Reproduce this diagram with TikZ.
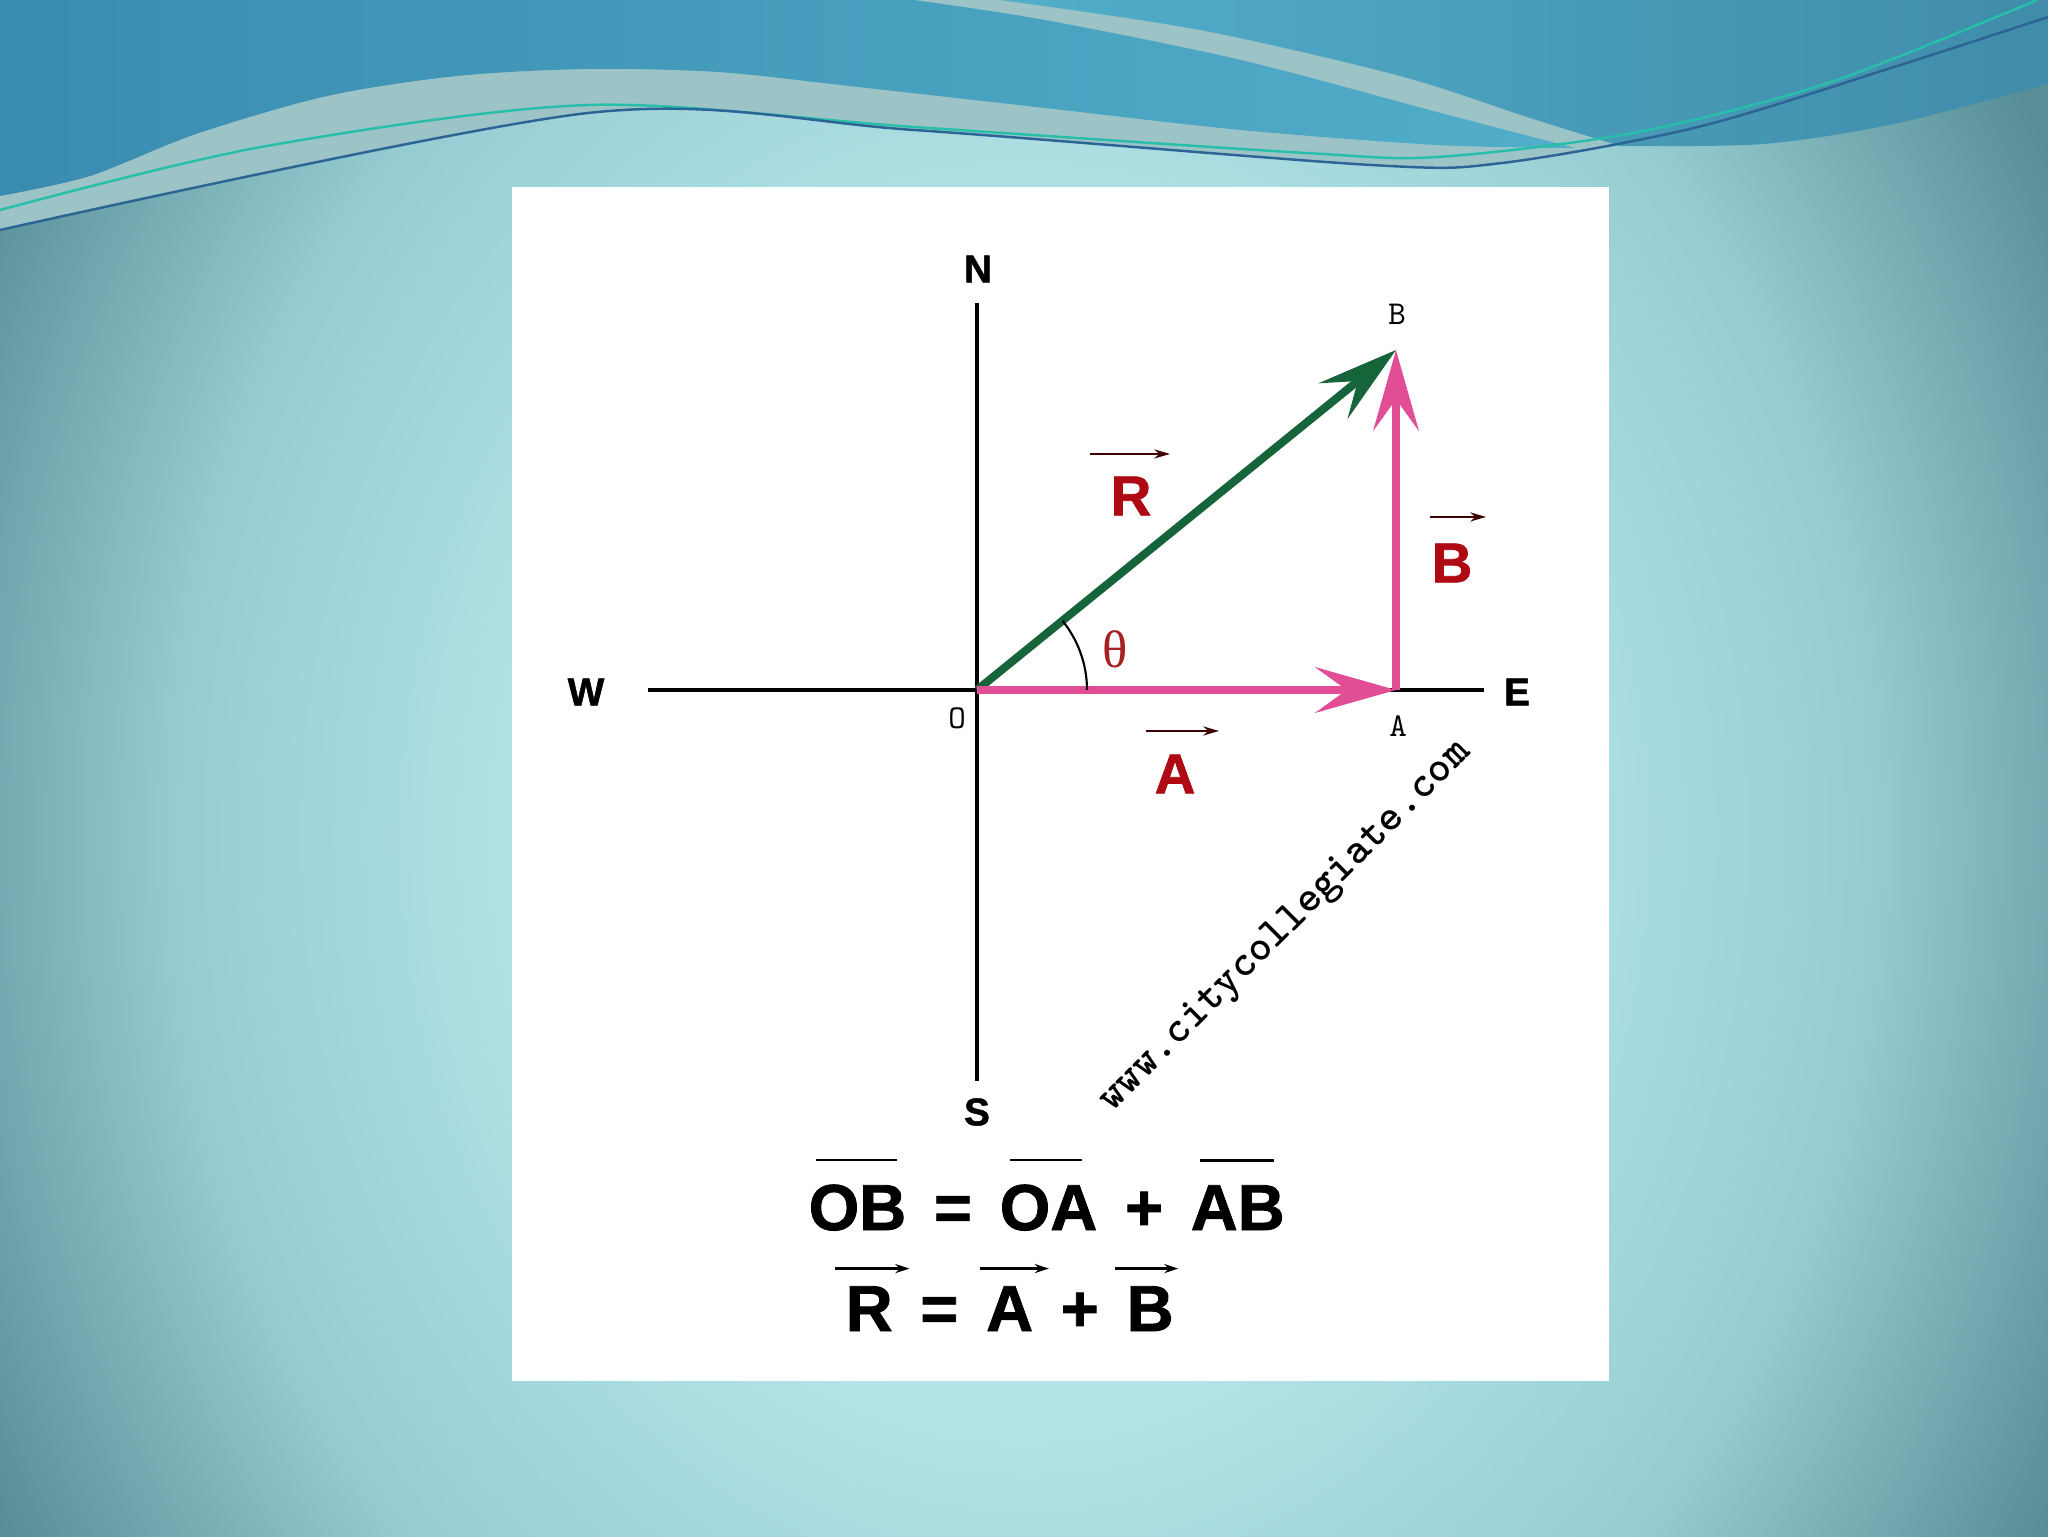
\documentclass[tikz,border=0pt]{standalone}
\usepackage{fontspec}
\usetikzlibrary{positioning,arrows.meta}
\newfontfamily\arialfont{Liberation Sans}[BoldFeatures={FakeBold=1.3}]
\newfontfamily\timesfont{Liberation Serif}
\definecolor{vecpink}{RGB}{226,78,150}
\definecolor{vecgreen}{RGB}{22,100,58}
\definecolor{vecred}{RGB}{175,10,20}
\definecolor{thetared}{RGB}{168,32,32}
\definecolor{glowin}{RGB}{180,228,231}
\definecolor{glowmid}{RGB}{150,205,210}
\definecolor{glowout}{RGB}{88,142,150}
\definecolor{waveblue}{RGB}{58,140,175}
\definecolor{waveblueR}{RGB}{82,174,202}
\definecolor{wavegrey}{RGB}{156,196,199}
\definecolor{lineteal}{RGB}{40,190,170}
\definecolor{lineblue}{RGB}{45,100,150}
\pgfdeclareradialshading{slideglow}{\pgfpoint{0bp}{0bp}}{color(0bp)=(glowin); color(10bp)=(glowin); color(18bp)=(glowmid); color(25bp)=(glowout); color(50bp)=(glowout)}

\begin{document}
\begin{tikzpicture}[x=0.1mm, y=0.1mm,
    axis/.style={line width=0.9pt, black},
    compass/.style={font=\arialfont\bfseries\fontsize{11}{13}\selectfont, inner sep=0pt},
    pointlbl/.style={font=\ttfamily\fontsize{9.5}{11}\selectfont, inner sep=0pt},
    veclbl/.style={font=\arialfont\bfseries\fontsize{16}{18}\selectfont, text=vecred, inner sep=0pt},
    vecbar/.style={line width=0.6pt, black!75!red, -{Stealth[length=4.5pt, width=2.6pt]}},
    pinkvec/.style={line width=2.2pt, vecpink, -{Stealth[length=23pt, width=13pt, inset=9pt]}},
    greenvec/.style={line width=2.3pt, vecgreen, -{Stealth[length=23pt, width=13pt, inset=9pt]}},
    eqtext/.style={font=\arialfont\bfseries\fontsize{18.5}{20}\selectfont, inner sep=0pt},
    eqbar/.style={line width=0.8pt, black},
    eqarrow/.style={line width=0.7pt, black, -{Stealth[length=4pt, width=2.6pt]}},
    node distance=7.5pt]
  \useasboundingbox (0,0) rectangle (2048,1536);

  % Slide background
  \begin{scope}
    \clip (0,0) rectangle (2048,1536);
    \shade[shading=slideglow] (-150,-700) rectangle (2198,2100);
    \fill[wavegrey] (0,1536) -- (0,1306)
      -- plot[smooth] coordinates {(0,1306) (588,1423) (914,1406) (1371,1371) (1502,1373) (1698,1409) (1894,1469) (2048,1519)}
      -- (2048,1536) -- cycle;
    \shade[left color=waveblue, right color=waveblueR] (0,1536) -- (0,1340)
      -- plot[smooth] coordinates {(0,1340) (90,1360) (196,1402) (327,1440) (457,1460) (588,1467) (718,1464) (849,1450) (1045,1428) (1241,1406) (1437,1391) (1575,1388)}
      -- plot[smooth] coordinates {(1575,1388) (1437,1424) (1241,1476) (1045,1516) (914,1536)}
      -- cycle;
    \shade[left color=waveblueR, right color=waveblue!80!glowout] (1000,1536)
      -- plot[smooth] coordinates {(1000,1536) (1200,1506) (1400,1460) (1530,1418) (1620,1390)}
      -- plot[smooth] coordinates {(1620,1390) (1763,1392) (1894,1412) (2048,1452)}
      -- (2048,1536) -- cycle;
    \draw[lineteal, line width=0.7pt] plot[smooth] coordinates {(0,1326) (261,1389) (588,1431) (914,1409) (1306,1383) (1437,1379) (1633,1403) (1828,1453) (2037,1536)};
    \draw[lineblue, line width=0.7pt] plot[smooth] coordinates {(0,1306) (588,1423) (914,1406) (1371,1371) (1502,1373) (1698,1409) (1894,1469) (2048,1519)};
  \end{scope}

  % White panel
  \fill[white] (512,155) rectangle (1609,1349);

  % Axes
  \coordinate (O) at (977,846);
  \coordinate (Ntop) at (977,1233);
  \coordinate (Sbot) at (977,455);
  \coordinate (Wend) at (648,846);
  \coordinate (Eend) at (1484,846);
  \coordinate (A) at (1396,846);
  \coordinate (B) at (1396,1186);
  \draw[axis] (Wend) -- (Eend);
  \draw[axis] (Sbot) -- (Ntop);
  \node[compass] (lN) at (978,1267) {N};
  \node[compass] (lS) at (977,424) {S};
  \node[compass] (lW) at (586,844) {W};
  \node[compass] (lE) at (1517,844) {E};

  % Vectors
  \draw[greenvec] (O) -- (B);
  \draw[pinkvec] (O) -- (A);
  \draw[pinkvec] (A) -- (B);
  \draw[line width=0.6pt] ([shift={(0:11mm)}]O) arc[start angle=0, end angle=39, radius=11mm];

  % Labels
  \node[pointlbl] (lO) at (957,818) {O};
  \node[pointlbl] (lA) at (1398,810) {A};
  \node[pointlbl] (lB) at (1397,1222) {B};
  \node[font=\timesfont\fontsize{15}{17}\selectfont, text=thetared, inner sep=0pt] (lTheta) at (1115,887) {θ};
  \node[veclbl] (vR) at (1131,1040) {R};
  \draw[vecbar] ([shift={(-41,22)}]vR.north) -- ([shift={(39,22)}]vR.north);
  \node[veclbl] (vB) at (1452,973) {B};
  \draw[vecbar] ([shift={(-22,26)}]vB.north) -- ([shift={(34,26)}]vB.north);
  \node[veclbl] (vA) at (1175,762) {A};
  \draw[vecbar] ([shift={(-29,23)}]vA.north) -- ([shift={(44,23)}]vA.north);
  \node[font=\ttfamily\bfseries\fontsize{12.5}{14}\selectfont, rotate=45] (wm) at (1286,609) {www.citycollegiate.com};

  % Equations
  \node[eqtext, anchor=base west] (eqOB) at (808,306) {OB};
  \node[eqtext, base right=of eqOB] (eqIs) {=};
  \node[eqtext, base right=of eqIs] (eqOA) {OA};
  \node[eqtext, base right=of eqOA] (eqPlus) {+};
  \node[eqtext, base right=of eqPlus] (eqAB) {AB};
  \draw[eqbar] ([shift={(8,24)}]eqOB.north west) -- ([shift={(-10,24)}]eqOB.north east);
  \draw[eqbar] ([shift={(11,24)}]eqOA.north west) -- ([shift={(-16,24)}]eqOA.north east);
  \draw[eqbar] ([shift={(10,24)}]eqAB.north west) -- ([shift={(-11,24)}]eqAB.north east);

  \node[eqtext, anchor=base west] (eqR) at (845,205) {R};
  \node[eqtext, base right=of eqR] (eqIs2) {=};
  \node[eqtext, base right=of eqIs2] (eqA) {A};
  \node[eqtext, base right=of eqA] (eqPlus2) {+};
  \node[eqtext, base right=of eqPlus2] (eqB) {B};
  \draw[eqarrow] ([shift={(-10,17)}]eqR.north west) -- ([shift={(16,17)}]eqR.north east);
  \draw[eqarrow] ([shift={(-5,17)}]eqA.north west) -- ([shift={(15,17)}]eqA.north east);
  \draw[eqarrow] ([shift={(-11,17)}]eqB.north west) -- ([shift={(4,17)}]eqB.north east);
\end{tikzpicture}
\end{document}
